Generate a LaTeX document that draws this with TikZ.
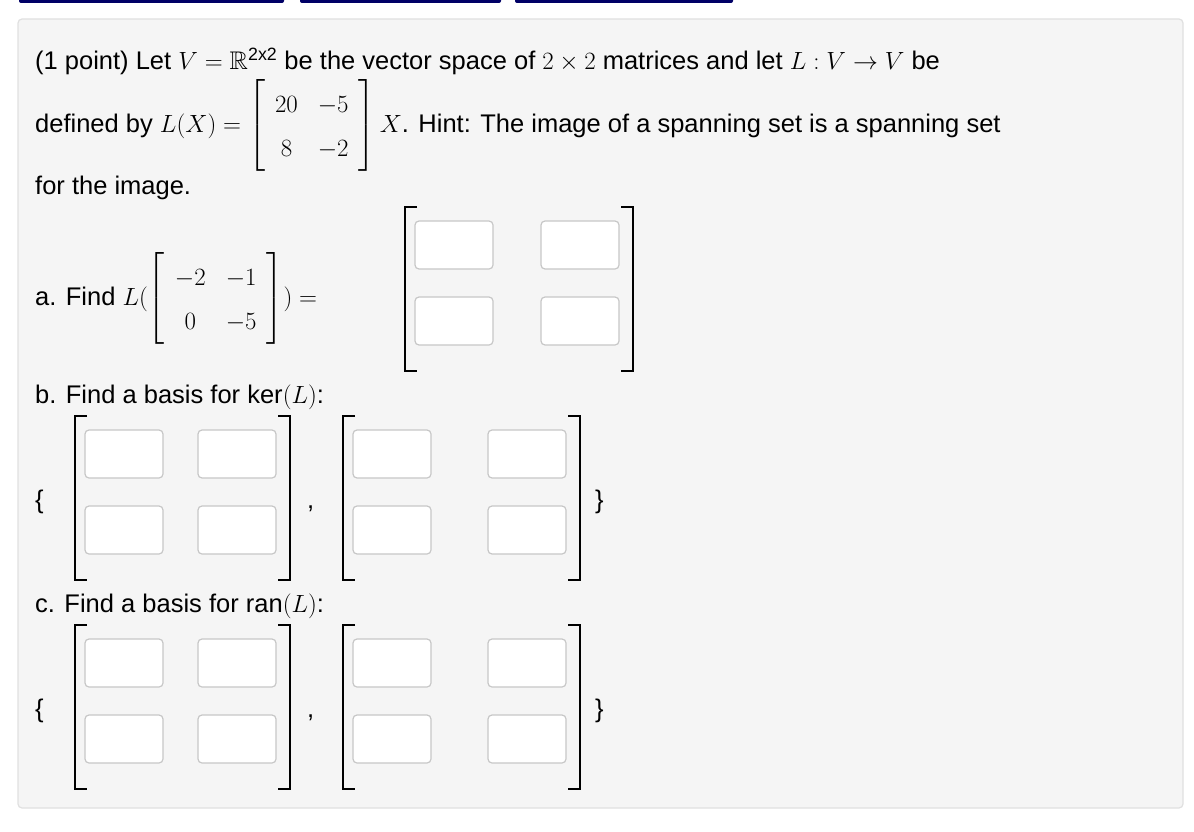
\documentclass[tikz,border=0pt]{standalone}
\usepackage{amsmath,amssymb}
\usepackage{fontspec}
\setmainfont{Liberation Sans}
\tikzset{
    answerbox/.style={draw=black!22, fill=white, rounded corners=4pt, line width=1.2pt},
    brack/.style={line width=2pt},
    qtext/.style={anchor=base west, inner sep=0pt, font=\fontsize{25.5}{30}\selectfont},
}
% one 2x2 grid of answer boxes with brackets, top-left corner at (#1,#2)
\newcommand{\AnswerMatrix}[3]{
    \begin{scope}[shift={(#1,#2)}]
        \draw[brack] (12,0) -- (0,0) -- (0,164) -- (12,164);
        \draw[brack] (#3-12,0) -- (#3,0) -- (#3,164) -- (#3-12,164);
        \node[answerbox, minimum width=78pt, minimum height=48pt] (#1#2a) at (49,38) {};
        \node[answerbox, minimum width=78pt, minimum height=48pt] (#1#2b) at (#3-53,38) {};
        \node[answerbox, minimum width=78pt, minimum height=48pt] (#1#2c) at (49,114) {};
        \node[answerbox, minimum width=78pt, minimum height=48pt] (#1#2d) at (#3-53,114) {};
    \end{scope}
}
\newcommand{\Mat}[4]{\left[\begin{array}{cc}#1&#2\\#3&#4\end{array}\right]}
\begin{document}
\begin{tikzpicture}[x=1pt, y=-1pt]
    \useasboundingbox (0,0) rectangle (1194,832);
    % tabs
    \foreach \a/\b in {19/284, 300/501, 515/733}
        \fill[blue!40!black, rounded corners=2pt] (\a,-4) rectangle (\b,3);
    \draw[black!12, fill=black!4, rounded corners=4pt, line width=1.2pt] (18,19) rectangle (1183,808);

    \begingroup
    \renewcommand{\arraystretch}{1.45}
    \setlength{\arraycolsep}{10pt}
    \node[qtext] (line1) at (35,70) {(1 point) Let $V=\mathbb{R}^{\text{2x2}}$ be the vector space of $2\times2$ matrices and let $L:V\to V$ be};
    \node[qtext] (line2) at (35,132) {defined by $L(X)=\Mat{20}{-5}{8}{-2}X$. Hint: The image of a spanning set is a spanning set};
    \node[qtext] (line3) at (35,194) {for the image.};

    \node[qtext] (parta) at (35,305) {a. Find $L(\Mat{-2}{-1}{0}{-5})=$};
    \endgroup
    \AnswerMatrix{405}{207}{228}

    \node[qtext] (partb) at (35,403) {b. Find a basis for $\ker(L)$:};
    \node[qtext] at (35,508) {\{};
    \AnswerMatrix{75}{416}{215}
    \node[qtext] at (307,508) {,};
    \AnswerMatrix{343}{416}{237}
    \node[qtext] at (595,508) {\}};

    \node[qtext] (partc) at (35,612) {c. Find a basis for $\operatorname{ran}(L)$:};
    \node[qtext] at (35,717) {\{};
    \AnswerMatrix{75}{625}{215}
    \node[qtext] at (307,717) {,};
    \AnswerMatrix{343}{625}{237}
    \node[qtext] at (595,717) {\}};
\end{tikzpicture}
\end{document}
